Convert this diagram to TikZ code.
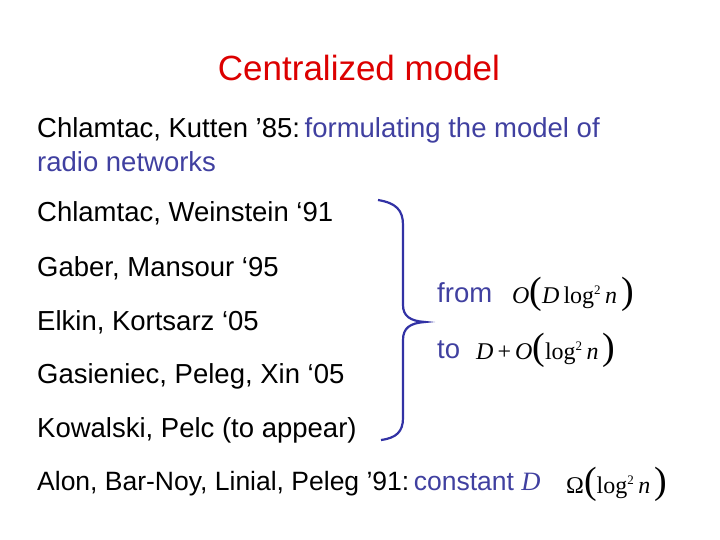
\documentclass[tikz,border=0pt]{standalone}
\usepackage{fontspec}
\setmainfont{Liberation Sans}
\newfontfamily\tms{Liberation Serif}
\definecolor{tblue}{RGB}{64,64,160}
\definecolor{bblue}{RGB}{50,50,165}
\definecolor{tred}{RGB}{220,0,0}
\newcommand{\bigp}[1]{{\fontsize{38}{38}\selectfont\upshape #1}}
\newcommand{\sqr}{\textsuperscript{\fontsize{13}{13}\selectfont 2}}
\begin{document}
\begin{tikzpicture}[x=1pt,y=-1pt,
  body/.style={anchor=west,inner sep=0pt,font=\fontsize{27.5}{32}\selectfont},
  frm/.style={anchor=west,inner sep=0pt,font=\tms\fontsize{24}{26}\selectfont}]
\useasboundingbox (0,0) rectangle (720,540);
\node[inner sep=0pt,text=tred,font=\fontsize{35}{40}\selectfont] (title) at (359,68) {Centralized model};
\node[body] (ck) at (37,130) {Chlamtac, Kutten ’85:\,\textcolor{tblue}{formulating the model of}};
\node[body] (rn) at (37,162) {\textcolor{tblue}{radio networks}};
\node[body] (cw) at (37,213) {Chlamtac, Weinstein ‘91};
\node[body] (gm) at (37,268) {Gaber, Mansour ‘95};
\node[body] (ek) at (37,322) {Elkin, Kortsarz ‘05};
\node[body] (gp) at (37,376) {Gasieniec, Peleg, Xin ‘05};
\node[body] (kp) at (37,430) {Kowalski, Pelc (to appear)};
\node[body,font=\fontsize{26.5}{32}\selectfont] (al) at (37,484) {Alon, Bar-Noy, Linial, Peleg ’91:\,\textcolor{tblue}{constant {\tms\itshape D}}};
\node[body] (from) at (437,293) {\textcolor{tblue}{from}};
\node[body] (to) at (437,350) {\textcolor{tblue}{to}};
\node[frm] (f1) at (512,294) {\itshape O\bigp{(}D\,\upshape log\sqr\,\itshape n\,\bigp{)}};
\node[frm] (f2) at (476,350) {\itshape D\,\upshape+\,\itshape O\bigp{(}\upshape log\sqr\,\itshape n\,\bigp{)}};
\node[frm] (f3) at (566,484) {\upshape Ω\bigp{(}log\sqr\,\itshape n\,\bigp{)}};
\draw[bblue,line width=2.2pt] (378,200) .. controls (396,203) and (403,210) .. (403,225)
  -- (403,305) .. controls (403,316) and (410,321) .. (425,322)
  .. controls (410,323) and (403,328) .. (403,340)
  -- (403,418) .. controls (403,432) and (396,438) .. (381,440);
\end{tikzpicture}
\end{document}
